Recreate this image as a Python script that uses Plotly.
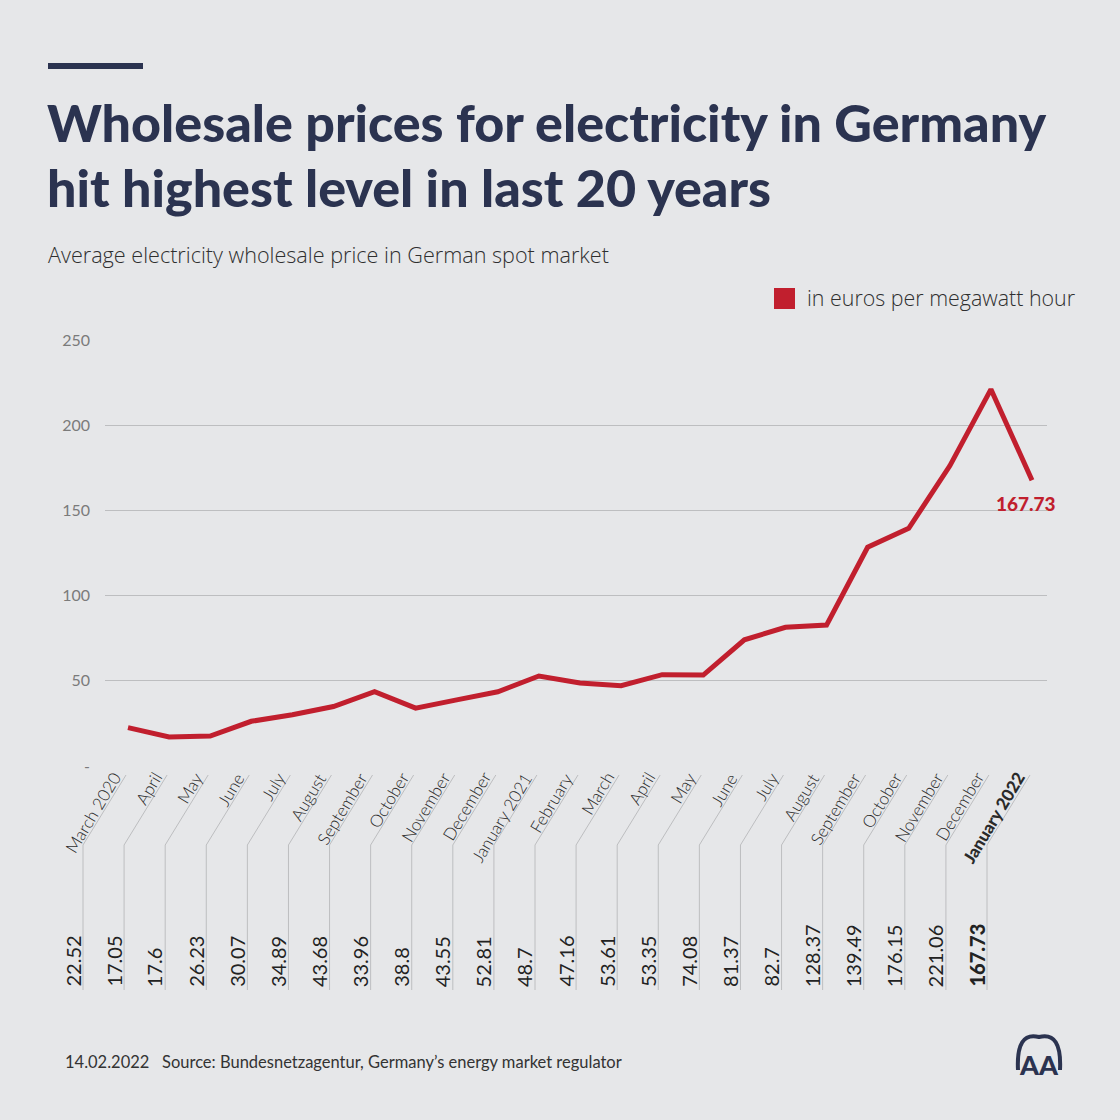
import plotly.graph_objects as go

# ---------------- data ----------------
months = ["March 2020", "April", "May", "June", "July", "August", "September",
          "October", "November", "December", "January 2021", "February", "March",
          "April", "May", "June", "July", "August", "September", "October",
          "November", "December", "January 2022"]
prices = [22.52, 17.05, 17.6, 26.23, 30.07, 34.89, 43.68, 33.96, 38.8, 43.55,
          52.81, 48.7, 47.16, 53.61, 53.35, 74.08, 81.37, 82.7, 128.37, 139.49,
          176.15, 221.06, 167.73]
value_labels = ["22.52", "17.05", "17.6", "26.23", "30.07", "34.89", "43.68",
                "33.96", "38.8", "43.55", "52.81", "48.7", "47.16", "53.61",
                "53.35", "74.08", "81.37", "82.7", "128.37", "139.49", "176.15",
                "221.06", "167.73"]
y_ticks = [0, 50, 100, 150, 200, 250]
y_ticktext = ["-", "50", "100", "150", "200", "250"]

title_lines = ["Wholesale prices for electricity in Germany",
               "hit highest level in last 20 years"]
subtitle = "Average electricity wholesale price in German spot market"
legend_text = "in euros per megawatt hour"
footer = "14.02.2022   Source: Bundesnetzagentur, Germany\u2019s energy market regulator"

# ---------------- style ----------------
BG = "#e6e7e9"
NAVY = "#2b3350"
RED = "#c11f2e"
GRID = "#bdbec0"
W = H = 1120
L, R, T, B = 105, 1047, 340, 766           # plot area in pixels
X0PIX, X1PIX = 128, 1032                   # first / last data point pixel x
n = len(months)
step = (X1PIX - X0PIX) / (n - 1)


def px(x):
    return (x - L) / (R - L)


def py(y):
    return (B - y) / (B - T)


def xpix(i):
    # pixel position of category i on the x axis
    return X0PIX + i * step


fig = go.Figure()
fig.add_trace(go.Scatter(
    x=list(range(n)), y=prices, mode="lines",
    line=dict(color=RED, width=5), hoverinfo="skip", showlegend=False))

shapes = []
annotations = []

# top bar
shapes.append(dict(type="line", xref="paper", yref="paper",
                   x0=px(48), x1=px(143), y0=py(66), y1=py(66),
                   line=dict(color=NAVY, width=6)))

# title
for k, line in enumerate(title_lines):
    annotations.append(dict(xref="paper", yref="paper", x=px(45), y=py(122 + 65 * k),
                            xanchor="left", yanchor="middle", showarrow=False,
                            text=line,
                            font=dict(family="Lato", size=52, color=NAVY, weight=900)))
# subtitle
annotations.append(dict(xref="paper", yref="paper", x=px(46), y=py(254),
                        xanchor="left", yanchor="middle", showarrow=False,
                        text=subtitle,
                        font=dict(family="Open Sans", size=21.6, color="#2f2f2f", weight=300)))
# legend
shapes.append(dict(type="rect", xref="paper", yref="paper",
                   x0=px(774), x1=px(795), y0=py(288), y1=py(309),
                   fillcolor=RED, line=dict(width=0)))
annotations.append(dict(xref="paper", yref="paper", x=px(805), y=py(297),
                        xanchor="left", yanchor="middle", showarrow=False,
                        text=legend_text,
                        font=dict(family="Open Sans", size=21.4, color="#2f2f2f", weight=300)))

# last value label on line
annotations.append(dict(xref="x", yref="y", x=n - 1, y=prices[-1],
                        xshift=-6, yshift=-23, showarrow=False,
                        text=value_labels[-1],
                        font=dict(family="Lato", size=19, color=RED, weight=900)))

# month labels, leader lines, value labels
for i, (m, v) in enumerate(zip(months, value_labels)):
    last = i == n - 1
    xc = xpix(i)
    shapes.append(dict(type="line", xref="paper", yref="paper",
                       x0=px(xc - 2), y0=py(775), x1=px(xc - 45), y1=py(845),
                       line=dict(color=GRID, width=1)))
    shapes.append(dict(type="line", xref="paper", yref="paper",
                       x0=px(xc - 45), y0=py(845), x1=px(xc - 45), y1=py(990),
                       line=dict(color=GRID, width=1)))
    annotations.append(dict(xref="paper", yref="paper", x=px(xc), y=py(766),
                            xanchor="right", yanchor="top", showarrow=False,
                            textangle=-59, text=m,
                            font=dict(family="Lato", size=17, color="#2a2a2a",
                                      weight=900 if last else 300)))
    annotations.append(dict(xref="paper", yref="paper", x=px(xc - 56), y=py(989),
                            xanchor="center", yanchor="bottom", showarrow=False,
                            textangle=-90, text=v,
                            font=dict(family="Lato", size=20, color="#222222",
                                      weight=900 if last else 400)))

# footer
annotations.append(dict(xref="paper", yref="paper", x=px(63), y=py(1062),
                        xanchor="left", yanchor="middle", showarrow=False,
                        text=footer,
                        font=dict(family="Lato", size=16.5, color="#333333", weight=400)))

# AA logo (approximation)
cx, cy, r = 1039, 1058, 21
path = (f"M {px(cx - r)},{py(cy + 12)} "
        f"Q {px(cx - r - 2)},{py(cy - r - 6)} {px(cx)},{py(cy - r)} "
        f"Q {px(cx + r + 2)},{py(cy - r - 6)} {px(cx + r)},{py(cy + 12)}")
shapes.append(dict(type="path", xref="paper", yref="paper", path=path,
                   line=dict(color=NAVY, width=4)))
annotations.append(dict(xref="paper", yref="paper", x=px(cx), y=py(1064),
                        xanchor="center", yanchor="middle", showarrow=False,
                        text="AA",
                        font=dict(family="Lato", size=27, color=NAVY, weight=900)))

fig.update_layout(
    width=W, height=H,
    margin=dict(l=L, r=W - R, t=T, b=H - B, pad=0),
    paper_bgcolor=BG, plot_bgcolor=BG,
    showlegend=False,
    shapes=shapes, annotations=annotations,
    xaxis=dict(range=[(L - X0PIX) / step, (n - 1) + (R - X1PIX) / step],
               showgrid=False, zeroline=False, showticklabels=False,
               showline=False, ticks="", fixedrange=True),
    yaxis=dict(range=[0, 250], tickvals=y_ticks, ticktext=y_ticktext,
               showgrid=True, gridcolor=GRID, gridwidth=1, zeroline=False,
               showline=False, ticks="", ticklabelstandoff=14,
               tickfont=dict(family="Lato", size=16, color="#7b7b7b"),
               fixedrange=True),
)

fig.write_html("out.html")
